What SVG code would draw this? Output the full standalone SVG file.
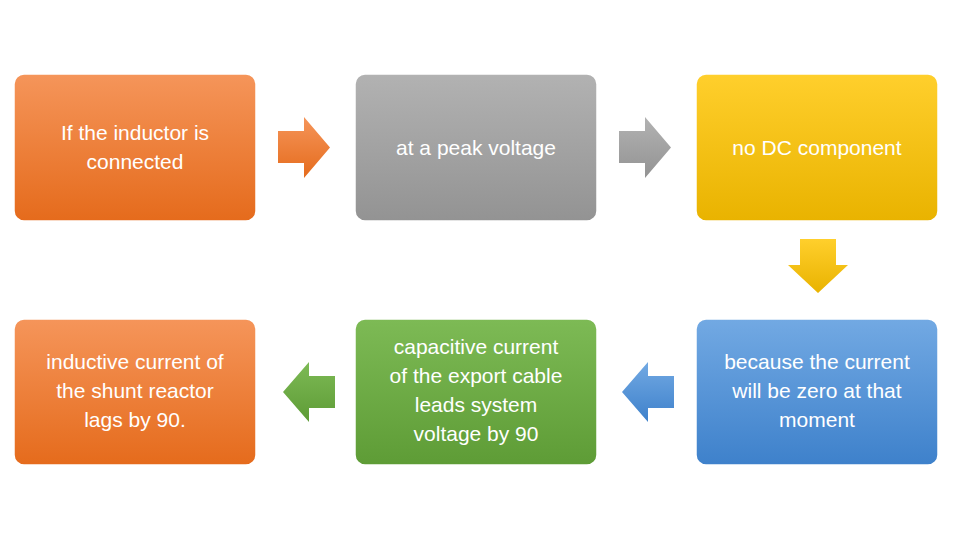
<svg xmlns="http://www.w3.org/2000/svg" width="960" height="540" viewBox="0 0 960 540">
<style>
.box{stroke:#fff;stroke-width:1.5}
.t{font-family:"Liberation Sans",Arial,sans-serif;font-size:21px;fill:#fff;text-anchor:middle}
</style>
<defs>
<linearGradient id="go" x1="0" y1="0" x2="0" y2="1"><stop offset="0" stop-color="#F5955A"/><stop offset="1" stop-color="#E56B1C"/></linearGradient>
<linearGradient id="gg" x1="0" y1="0" x2="0" y2="1"><stop offset="0" stop-color="#B2B2B2"/><stop offset="1" stop-color="#939393"/></linearGradient>
<linearGradient id="gy" x1="0" y1="0" x2="0" y2="1"><stop offset="0" stop-color="#FFCF2C"/><stop offset="1" stop-color="#E9B300"/></linearGradient>
<linearGradient id="gb" x1="0" y1="0" x2="0" y2="1"><stop offset="0" stop-color="#72A9E3"/><stop offset="1" stop-color="#3E81CB"/></linearGradient>
<linearGradient id="gn" x1="0" y1="0" x2="0" y2="1"><stop offset="0" stop-color="#7DBA55"/><stop offset="1" stop-color="#5E9C36"/></linearGradient>
</defs>
<rect width="960" height="540" fill="#fff"/>
<g id="n1"><rect class="box" x="14" y="74" width="242" height="147" rx="10" fill="url(#go)"/><text class="t" x="135" y="140">If the inductor is</text><text class="t" x="135" y="169">connected</text></g>
<g id="n2"><rect class="box" x="355" y="74" width="242" height="147" rx="10" fill="url(#gg)"/><text class="t" x="476" y="155">at a peak voltage</text></g>
<g id="n3"><rect class="box" x="696" y="74" width="242" height="147" rx="10" fill="url(#gy)"/><text class="t" x="817" y="155">no DC component</text></g>
<g id="n4"><rect class="box" x="696" y="319" width="242" height="146" rx="10" fill="url(#gb)"/><text class="t" x="817" y="369">because the current</text><text class="t" x="817" y="398">will be zero at that</text><text class="t" x="817" y="427">moment</text></g>
<g id="n5"><rect class="box" x="355" y="319" width="242" height="146" rx="10" fill="url(#gn)"/><text class="t" x="476" y="354">capacitive current</text><text class="t" x="476" y="383">of the export cable</text><text class="t" x="476" y="412">leads system</text><text class="t" x="476" y="441">voltage by 90</text></g>
<g id="n6"><rect class="box" x="14" y="319" width="242" height="146" rx="10" fill="url(#go)"/><text class="t" x="135" y="369">inductive current of</text><text class="t" x="135" y="398">the shunt reactor</text><text class="t" x="135" y="427">lags by 90.</text></g>
<g id="connectors">
<polygon points="278,131 304,131 304,117 330,147.5 304,178 304,163 278,163" fill="url(#go)"/>
<polygon points="619,131 645,131 645,117 671,147.5 645,178 645,163 619,163" fill="url(#gg)"/>
<polygon points="800,239 836,239 836,265 848,265 818,293 788,265 800,265" fill="url(#gy)"/>
<polygon points="674,376 648,376 648,362 622,392 648,422 648,408 674,408" fill="url(#gb)"/>
<polygon points="335,376 309,376 309,362 283,392 309,422 309,408 335,408" fill="url(#gn)"/>
</g>
</svg>
